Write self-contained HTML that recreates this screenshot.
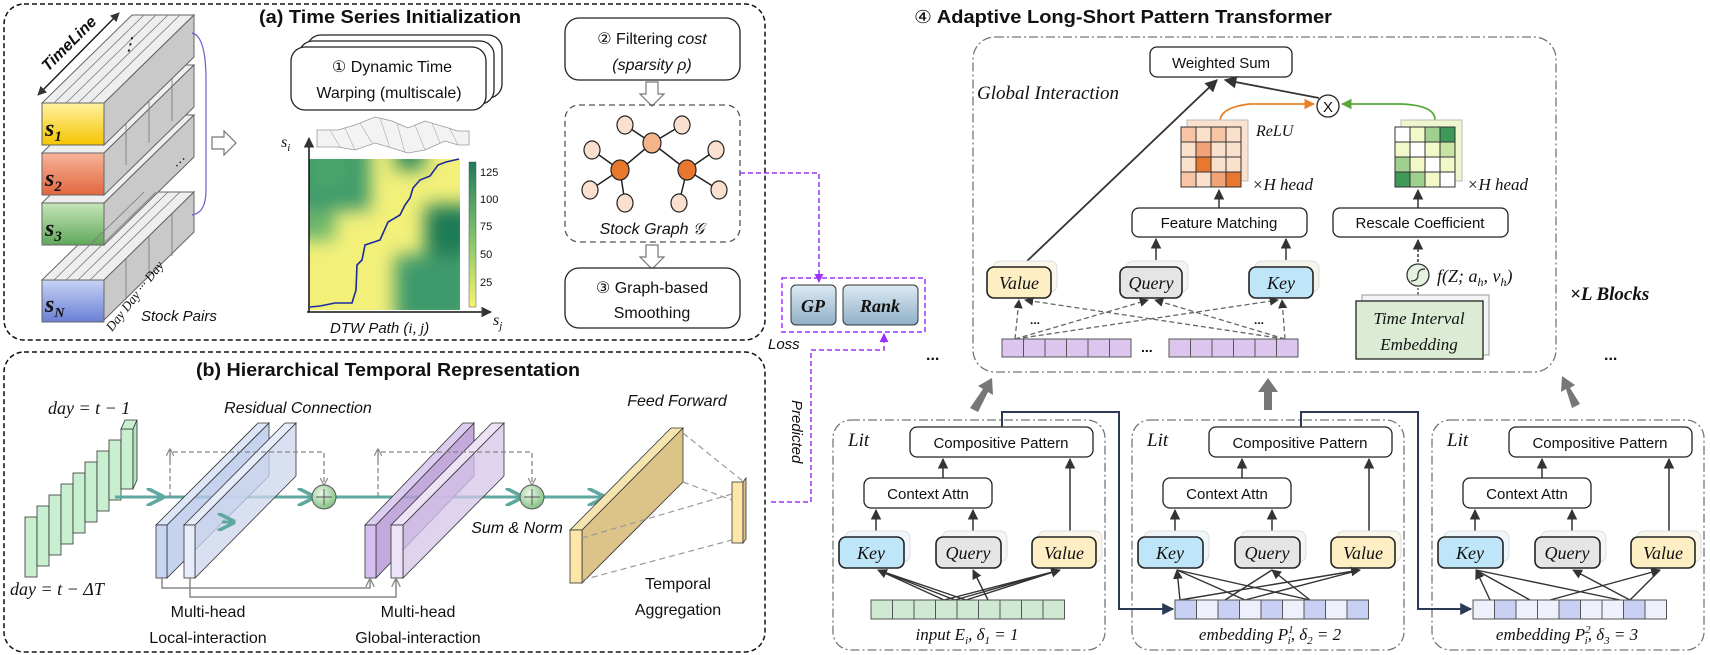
<!DOCTYPE html>
<html><head><meta charset="utf-8"><style>
html,body{margin:0;padding:0;background:#fff}
svg{display:block}
text{font-family:"Liberation Sans",sans-serif;fill:#111}
.m{font-family:"Liberation Serif",serif;font-style:italic}
.b{font-weight:bold}
</style></head><body>
<svg width="1710" height="655" viewBox="0 0 1710 655" xmlns="http://www.w3.org/2000/svg">
<defs>
<marker id="ah" viewBox="0 0 10 10" refX="9" refY="5" markerWidth="7" markerHeight="7" orient="auto-start-reverse"><path d="M0,0L10,5L0,10z" fill="#333"/></marker>
<marker id="ap" viewBox="0 0 10 10" refX="9" refY="5" markerWidth="6" markerHeight="6" orient="auto"><path d="M0,0L10,5L0,10z" fill="#9b30ff"/></marker>
<marker id="ao" viewBox="0 0 10 10" refX="9" refY="5" markerWidth="6" markerHeight="6" orient="auto"><path d="M0,0L10,5L0,10z" fill="#e8822a"/></marker>
<marker id="ag" viewBox="0 0 10 10" refX="9" refY="5" markerWidth="6" markerHeight="6" orient="auto"><path d="M0,0L10,5L0,10z" fill="#5aa83a"/></marker>
<marker id="an" viewBox="0 0 10 10" refX="9" refY="5" markerWidth="6" markerHeight="6" orient="auto"><path d="M0,0L10,5L0,10z" fill="#2d3a55"/></marker>
<marker id="at" viewBox="0 0 10 10" refX="8" refY="5" markerWidth="6" markerHeight="6" orient="auto"><path d="M0,0L10,5L0,10" fill="none" stroke="#5fa8a0" stroke-width="2"/></marker>
<marker id="agr" viewBox="0 0 10 10" refX="8" refY="5" markerWidth="6" markerHeight="6" orient="auto"><path d="M0,0L10,5L0,10" fill="none" stroke="#888" stroke-width="1.5"/></marker>
<linearGradient id="gy" x1="0" y1="0" x2="0" y2="1"><stop offset="0" stop-color="#fff2a0"/><stop offset="1" stop-color="#f5c400"/></linearGradient>
<linearGradient id="go" x1="0" y1="0" x2="0" y2="1"><stop offset="0" stop-color="#f7b49a"/><stop offset="1" stop-color="#e2673e"/></linearGradient>
<linearGradient id="gg" x1="0" y1="0" x2="0" y2="1"><stop offset="0" stop-color="#c6e6b8"/><stop offset="1" stop-color="#5fa85a"/></linearGradient>
<linearGradient id="gb" x1="0" y1="0" x2="0" y2="1"><stop offset="0" stop-color="#c7d3f5"/><stop offset="1" stop-color="#6a7fd6"/></linearGradient>
<linearGradient id="gbtn" x1="0" y1="0" x2="0" y2="1"><stop offset="0" stop-color="#dceaf3"/><stop offset="1" stop-color="#8fb0c6"/></linearGradient>
<linearGradient id="cb" x1="0" y1="0" x2="0" y2="1"><stop offset="0" stop-color="#1e7a5a"/><stop offset="0.5" stop-color="#7cc36a"/><stop offset="1" stop-color="#f7f46a"/></linearGradient>
<radialGradient id="pl" cx="0.4" cy="0.35" r="0.7"><stop offset="0" stop-color="#eaf7e6"/><stop offset="1" stop-color="#7fbf80"/></radialGradient>
<filter id="bl" x="-30%" y="-30%" width="160%" height="160%"><feGaussianBlur stdDeviation="9"/></filter>
<clipPath id="hm"><rect x="309" y="159" width="151" height="151"/></clipPath>
</defs>

<!-- ===== Panel (a) ===== -->
<rect x="4" y="4" width="761" height="336" rx="20" fill="none" stroke="#111" stroke-width="1.5" stroke-dasharray="5,3"/>
<text x="390" y="23" text-anchor="middle" class="b" font-size="18" textLength="262" lengthAdjust="spacingAndGlyphs">(a) Time Series Initialization</text>

<g stroke="#666" stroke-width="1">
<polygon points="42,280 104,280 194,192 132,192" fill="#eee"/>
<polygon points="104,280 194,192 194,232 104,320" fill="#c9c9c9"/>
<rect x="42" y="280" width="62" height="42" fill="url(#gb)"/>
<polygon points="42,203 104,203 194,115 132,115" fill="#eee"/>
<polygon points="104,203 194,115 194,157 104,245" fill="#c9c9c9"/>
<rect x="42" y="203" width="62" height="42" fill="url(#gg)"/>
<polygon points="42,153 104,153 194,65 132,65" fill="#eee"/>
<polygon points="104,153 194,65 194,107 104,195" fill="#c9c9c9"/>
<rect x="42" y="153" width="62" height="42" fill="url(#go)"/>
<polygon points="42,103 104,103 194,15 132,15" fill="#eee"/>
<polygon points="104,103 194,15 194,57 104,145" fill="#c9c9c9"/>
<rect x="42" y="103" width="62" height="42" fill="url(#gy)"/>
</g>
<g stroke="#777" stroke-width="0.8">
<line x1="54" y1="103" x2="144" y2="15"/><line x1="66" y1="103" x2="156" y2="15"/><line x1="78" y1="103" x2="168" y2="15"/><line x1="90" y1="103" x2="180" y2="15"/>
<line x1="54" y1="280" x2="144" y2="192"/><line x1="66" y1="280" x2="156" y2="192"/><line x1="78" y1="280" x2="168" y2="192"/><line x1="90" y1="280" x2="180" y2="192"/>
<line x1="126" y1="123" x2="126" y2="165"/><line x1="149" y1="101" x2="149" y2="143"/><line x1="172" y1="79" x2="172" y2="121"/>
<line x1="126" y1="300" x2="126" y2="258"/><line x1="149" y1="278" x2="149" y2="236"/><line x1="172" y1="256" x2="172" y2="214"/>
</g>
<text x="45" y="136" class="m b" font-size="24">s<tspan font-size="15" dy="5">1</tspan></text>
<text x="45" y="186" class="m b" font-size="24">s<tspan font-size="15" dy="5">2</tspan></text>
<text x="45" y="236" class="m b" font-size="24">s<tspan font-size="15" dy="5">3</tspan></text>
<text x="45" y="312" class="m b" font-size="24">s<tspan font-size="14" dy="5">N</tspan></text>
<text x="120" y="50" class="m" font-size="18">⋮</text>
<text x="178" y="170" font-size="14" transform="rotate(-45 178 170)">···</text>
<line x1="38" y1="95" x2="119" y2="13" stroke="#111" stroke-width="1.3" marker-start="url(#ah)" marker-end="url(#ah)"/>
<text x="48" y="72" class="b" font-style="italic" font-size="16" transform="rotate(-45 48 72)">TimeLine</text>
<text x="112" y="332" class="m" font-size="13" transform="rotate(-52 112 332)">Day Day ··· Day</text>
<text x="141" y="321" font-style="italic" font-size="15">Stock Pairs</text>
<path d="M192,33 Q206,36 206,80 L206,190 Q206,213 192,215" fill="none" stroke="#6a5acd" stroke-width="1.2"/>
<polygon points="212,137 224,137 224,131 236,143 224,155 224,149 212,149" fill="#fff" stroke="#777" stroke-width="1.2"/>

<rect x="307" y="35" width="195" height="63" rx="14" fill="#fff" stroke="#222" stroke-width="1.3"/>
<rect x="299" y="41" width="195" height="63" rx="14" fill="#fff" stroke="#222" stroke-width="1.3"/>
<rect x="291" y="47" width="195" height="63" rx="14" fill="#fff" stroke="#222" stroke-width="1.3"/>
<text x="392" y="72" text-anchor="middle" font-size="16">① Dynamic Time</text>
<text x="389" y="98" text-anchor="middle" font-size="16">Warping (multiscale)</text>

<path d="M317,130 L338,130 L355,125 L375,117 L392,121 L408,128 L425,121 L445,127 L458,131 L469,131 L469,145 L458,145 L445,141 L425,150 L408,153 L392,148 L375,143 L355,150 L338,147 L317,147 Z" fill="#f3f3f3" stroke="#999" stroke-width="0.8"/>
<g stroke="#aaa" stroke-width="0.6"><line x1="330" y1="130" x2="340" y2="147"/><line x1="345" y1="128" x2="355" y2="150"/><line x1="360" y1="123" x2="372" y2="143"/><line x1="380" y1="118" x2="390" y2="148"/><line x1="397" y1="123" x2="405" y2="153"/><line x1="415" y1="125" x2="425" y2="150"/><line x1="432" y1="123" x2="440" y2="143"/><line x1="450" y1="129" x2="458" y2="145"/></g>

<g clip-path="url(#hm)">
<rect x="309" y="159" width="151" height="151" fill="#f3f07a"/>
<g filter="url(#bl)" fill="#3c9a6a">
<rect x="290" y="140" width="80" height="70"/>
<rect x="395" y="140" width="30" height="30" fill="#2f8a5e"/>
<rect x="290" y="210" width="45" height="30" fill="#6ab56a"/>
<rect x="425" y="205" width="50" height="50" fill="#1f7a55"/>
<rect x="395" y="255" width="80" height="70"/>
<rect x="310" y="150" width="40" height="40" fill="#4aa56a"/>
</g>
</g>
<path d="M310,307 L320,306 L335,303 L352,303 L356,290 L357,265 L362,260 L365,245 L380,240 L388,222 L400,215 L405,205 L410,198 L413,188 L420,180 L430,176 L438,165 L446,162 L459,159" fill="none" stroke="#1a2aa0" stroke-width="1.6"/>
<rect x="469" y="162" width="7" height="145" fill="url(#cb)" stroke="#555" stroke-width="0.5"/>
<g font-size="11" fill="#222"><text x="480" y="176">125</text><text x="480" y="203">100</text><text x="480" y="230">75</text><text x="480" y="258">50</text><text x="480" y="286">25</text></g>
<line x1="309" y1="312" x2="309" y2="138" stroke="#111" stroke-width="1.5" marker-end="url(#ah)"/>
<line x1="307" y1="312" x2="491" y2="312" stroke="#111" stroke-width="1.5" marker-end="url(#ah)"/>
<text x="281" y="147" class="m" font-size="16">s<tspan font-size="11" dy="4">i</tspan></text>
<text x="493" y="325" class="m" font-size="16">s<tspan font-size="11" dy="4">j</tspan></text>
<text x="330" y="333" font-style="italic" font-size="15">DTW Path (<tspan class="m">i, j</tspan>)</text>

<rect x="565" y="18" width="175" height="62" rx="14" fill="#fff" stroke="#222" stroke-width="1.3"/>
<text x="652" y="44" text-anchor="middle" font-size="16">② Filtering <tspan font-style="italic">cost</tspan></text>
<text x="652" y="70" text-anchor="middle" font-style="italic" font-size="16">(sparsity ρ)</text>
<polygon points="646,82 658,82 658,94 664,94 652,106 640,94 646,94" fill="#fff" stroke="#777" stroke-width="1.2"/>
<rect x="565" y="105" width="175" height="137" rx="14" fill="none" stroke="#555" stroke-width="1.3" stroke-dasharray="6,4"/>
<g stroke="#222" stroke-width="1.5">
<line x1="652" y1="143" x2="620" y2="170"/><line x1="652" y1="143" x2="687" y2="170"/>
<line x1="652" y1="143" x2="625" y2="125"/><line x1="652" y1="143" x2="682" y2="125"/>
<line x1="620" y1="170" x2="592" y2="150"/><line x1="620" y1="170" x2="590" y2="190"/><line x1="620" y1="170" x2="625" y2="203"/>
<line x1="687" y1="170" x2="716" y2="150"/><line x1="687" y1="170" x2="719" y2="190"/><line x1="687" y1="170" x2="679" y2="203"/>
</g>
<g stroke="#222" stroke-width="1.2" fill="#fbe0d0">
<ellipse cx="625" cy="125" rx="8" ry="9"/><ellipse cx="682" cy="125" rx="8" ry="9"/><ellipse cx="592" cy="150" rx="8" ry="9"/><ellipse cx="716" cy="150" rx="8" ry="9"/>
<ellipse cx="590" cy="190" rx="8" ry="9"/><ellipse cx="719" cy="190" rx="8" ry="9"/><ellipse cx="625" cy="203" rx="8" ry="9"/><ellipse cx="679" cy="203" rx="8" ry="9"/>
<ellipse cx="652" cy="143" rx="9" ry="10" fill="#f3b48a"/>
<ellipse cx="620" cy="170" rx="9" ry="10" fill="#e8782e"/><ellipse cx="687" cy="170" rx="9" ry="10" fill="#e8782e"/>
</g>
<text x="652" y="234" text-anchor="middle" font-style="italic" font-size="16">Stock Graph 𝒢</text>
<polygon points="646,245 658,245 658,257 664,257 652,269 640,257 646,257" fill="#fff" stroke="#777" stroke-width="1.2"/>
<rect x="565" y="268" width="175" height="60" rx="14" fill="#fff" stroke="#222" stroke-width="1.3"/>
<text x="652" y="293" text-anchor="middle" font-size="16">③ Graph-based</text>
<text x="652" y="318" text-anchor="middle" font-size="16">Smoothing</text>

<path d="M740,173 L819,173 L819,282" fill="none" stroke="#9b30ff" stroke-width="1.5" stroke-dasharray="5,3" marker-end="url(#ap)"/>
<rect x="782" y="278" width="143" height="54" fill="none" stroke="#9b30ff" stroke-width="1.5" stroke-dasharray="5,3"/>
<rect x="791" y="285" width="45" height="40" rx="5" fill="url(#gbtn)" stroke="#333"/>
<rect x="843" y="285" width="75" height="40" rx="5" fill="url(#gbtn)" stroke="#333"/>
<text x="813" y="312" text-anchor="middle" class="m b" font-size="18">GP</text>
<text x="880" y="312" text-anchor="middle" class="m b" font-size="18">Rank</text>
<text x="768" y="349" font-style="italic" font-size="15">Loss</text>
<path d="M771,502 L811,502 L811,350 L884,350 L884,334" fill="none" stroke="#9b30ff" stroke-width="1.5" stroke-dasharray="5,3" marker-end="url(#ap)"/>
<text x="792" y="400" font-style="italic" font-size="15" transform="rotate(90 792 400)">Predicted</text>

<!-- ===== Panel (b) ===== -->
<rect x="4" y="352" width="761" height="300" rx="20" fill="none" stroke="#111" stroke-width="1.5" stroke-dasharray="5,3"/>
<text x="388" y="376" text-anchor="middle" class="b" font-size="18" textLength="384" lengthAdjust="spacingAndGlyphs">(b) Hierarchical Temporal Representation</text>
<text x="48" y="414" class="m" font-size="18">day = t − 1</text>
<text x="10" y="595" class="m" font-size="18">day = t − ΔT</text>
<g stroke="#333" stroke-width="0.8" fill="#c8f0d0">
<rect x="25" y="517" width="12" height="60"/><rect x="37" y="506" width="12" height="60"/><rect x="49" y="495" width="12" height="60"/><rect x="61" y="484" width="12" height="60"/><rect x="73" y="473" width="12" height="60"/><rect x="85" y="462" width="12" height="60"/><rect x="97" y="451" width="12" height="60"/><rect x="109" y="440" width="12" height="60"/><rect x="121" y="429" width="12" height="60"/>
<polygon points="121,429 133,429 137,420 125,420"/><polygon points="133,429 137,420 137,480 133,489" fill="#b5e3bf"/>
</g>
<g stroke="#5fa8a0" stroke-width="3" fill="none">
<line x1="115" y1="497" x2="312" y2="497" marker-end="url(#at)"/>
<line x1="336" y1="497" x2="520" y2="497" marker-end="url(#at)"/>
<line x1="544" y1="497" x2="602" y2="497" marker-end="url(#at)"/>
<line x1="160" y1="497" x2="161" y2="497" marker-end="url(#at)"/>
</g>
<g stroke="#333" stroke-width="0.8">
<polygon points="167,525 269,423 269,476 167,578" fill="#b8c8ea" fill-opacity="0.8"/>
<polygon points="156,525 167,525 269,423 258,423" fill="#dde6f8"/>
<rect x="156" y="525" width="11" height="53" fill="#c8d6f4"/>
<polygon points="195,525 296,423 296,476 195,578" fill="#ccd6ee" fill-opacity="0.75"/>
<polygon points="184,525 195,525 296,423 285,423" fill="#e6ecf9"/>
<rect x="184" y="525" width="11" height="53" fill="#e6ecfa"/>
</g>
<line x1="222" y1="522" x2="232" y2="522" stroke="#5fa8a0" stroke-width="3" marker-end="url(#at)"/>
<g stroke="#333" stroke-width="0.8">
<polygon points="376,525 474,423 474,476 376,578" fill="#b89ad6" fill-opacity="0.85"/>
<polygon points="365,525 376,525 474,423 463,423" fill="#dccdf0"/>
<rect x="365" y="525" width="11" height="53" fill="#d4bff0"/>
<polygon points="403,525 504,423 504,476 403,578" fill="#d4c4e8" fill-opacity="0.75"/>
<polygon points="391,525 403,525 504,423 492,423" fill="#ece3f7"/>
<rect x="391" y="525" width="12" height="53" fill="#ece3f8"/>
</g>
<g stroke="#888" stroke-width="1.3" fill="none" stroke-dasharray="5,3">
<path d="M170,497 L170,452 L324,452 L324,484" marker-end="url(#agr)"/>
<path d="M170,460 L170,450" marker-end="url(#agr)"/>
<path d="M378,497 L378,452 L532,452 L532,484" marker-end="url(#agr)"/>
<path d="M378,460 L378,450" marker-end="url(#agr)"/>
</g>
<g stroke="#555" stroke-width="1"><circle cx="324" cy="497" r="12" fill="url(#pl)"/><circle cx="532" cy="497" r="12" fill="url(#pl)"/>
<line x1="316" y1="497" x2="332" y2="497"/><line x1="324" y1="489" x2="324" y2="505"/><line x1="524" y1="497" x2="540" y2="497"/><line x1="532" y1="489" x2="532" y2="505"/></g>
<g stroke="#888" stroke-width="1.5" fill="none">
<path d="M162,578 L162,588 L370,588 L370,580" marker-end="url(#agr)"/>
<path d="M190,578 L190,597 L396,597 L396,580" marker-end="url(#agr)"/>
</g>
<text x="298" y="413" text-anchor="middle" font-style="italic" font-size="16">Residual Connection</text>
<text x="517" y="533" text-anchor="middle" font-style="italic" font-size="16">Sum &amp; Norm</text>
<text x="677" y="406" text-anchor="middle" font-style="italic" font-size="16">Feed Forward</text>
<g stroke="#333" stroke-width="0.8">
<polygon points="582,530 683,428 683,482 582,583" fill="#dcc489"/>
<polygon points="570,530 582,530 683,428 671,428" fill="#f6e4b0"/>
<rect x="570" y="530" width="12" height="53" fill="#fde6a8"/>
<rect x="732" y="482" width="11" height="61" fill="#fde6a8"/>
<polygon points="743,482 746,478 746,539 743,543" fill="#dcc489"/>
</g>
<g stroke="#999" stroke-width="1.2" stroke-dasharray="6,4" fill="none">
<line x1="683" y1="433" x2="744" y2="482"/><line x1="582" y1="538" x2="732" y2="494"/><line x1="582" y1="580" x2="732" y2="540"/><line x1="683" y1="482" x2="732" y2="500"/>
</g>
<text x="678" y="589" text-anchor="middle" font-size="16">Temporal</text>
<text x="678" y="615" text-anchor="middle" font-size="16">Aggregation</text>
<text x="208" y="617" text-anchor="middle" font-size="16">Multi-head</text>
<text x="208" y="643" text-anchor="middle" font-size="16">Local-interaction</text>
<text x="418" y="617" text-anchor="middle" font-size="16">Multi-head</text>
<text x="418" y="643" text-anchor="middle" font-size="16">Global-interaction</text>

<!-- ===== Panel 4 ===== -->
<text x="914" y="23" font-size="18" class="b" textLength="418" lengthAdjust="spacingAndGlyphs"><tspan font-weight="normal">④</tspan> Adaptive Long-Short Pattern Transformer</text>
<rect x="973" y="37" width="583" height="335" rx="22" fill="none" stroke="#777" stroke-width="1.3" stroke-dasharray="9,3,2,3"/>
<rect x="1150" y="47" width="142" height="30" rx="7" fill="#fff" stroke="#222" stroke-width="1.3"/>
<text x="1221" y="68" text-anchor="middle" font-size="15">Weighted Sum</text>
<text x="977" y="99" class="m" font-size="19">Global Interaction</text>
<line x1="1025" y1="263" x2="1217" y2="80" stroke="#333" stroke-width="1.8" marker-end="url(#ah)"/>
<line x1="1319" y1="98" x2="1225" y2="80" stroke="#333" stroke-width="1.8" marker-end="url(#ah)"/>
<circle cx="1328" cy="106" r="11" fill="#fff" stroke="#222" stroke-width="1.3"/>
<text x="1328" y="112" text-anchor="middle" font-size="15">X</text>
<path d="M1220,120 Q1222,107 1250,104 L1314,104" fill="none" stroke="#e8822a" stroke-width="1.8" marker-end="url(#ao)"/>
<path d="M1435,120 Q1435,105 1400,104 L1342,104" fill="none" stroke="#5aa83a" stroke-width="1.8" marker-end="url(#ag)"/>
<rect x="1187" y="120" width="61" height="61" fill="#fbe1cf" stroke="#bbb"/>
<g stroke="#333" stroke-width="1">
<rect x="1181" y="127" width="15" height="15" fill="#f7c4a4"/><rect x="1196" y="127" width="15" height="15" fill="#fbe0cc"/><rect x="1211" y="127" width="15" height="15" fill="#f7c4a4"/><rect x="1226" y="127" width="15" height="15" fill="#fbe0cc"/>
<rect x="1181" y="142" width="15" height="15" fill="#fbe0cc"/><rect x="1196" y="142" width="15" height="15" fill="#f1a276"/><rect x="1211" y="142" width="15" height="15" fill="#fbe0cc"/><rect x="1226" y="142" width="15" height="15" fill="#fbe0cc"/>
<rect x="1181" y="157" width="15" height="15" fill="#fbe0cc"/><rect x="1196" y="157" width="15" height="15" fill="#e8782e"/><rect x="1211" y="157" width="15" height="15" fill="#fbe0cc"/><rect x="1226" y="157" width="15" height="15" fill="#fbe0cc"/>
<rect x="1181" y="172" width="15" height="15" fill="#f7c4a4"/><rect x="1196" y="172" width="15" height="15" fill="#fbe0cc"/><rect x="1211" y="172" width="15" height="15" fill="#f1a276"/><rect x="1226" y="172" width="15" height="15" fill="#e8782e"/>
</g>
<rect x="1401" y="120" width="61" height="61" fill="#eef6cf" stroke="#bbb"/>
<g stroke="#333" stroke-width="1">
<rect x="1395" y="127" width="15" height="15" fill="#fff"/><rect x="1410" y="127" width="15" height="15" fill="#f2f8c8"/><rect x="1425" y="127" width="15" height="15" fill="#9fd08f"/><rect x="1440" y="127" width="15" height="15" fill="#3f9a5a"/>
<rect x="1395" y="142" width="15" height="15" fill="#f2f8c8"/><rect x="1410" y="142" width="15" height="15" fill="#fff"/><rect x="1425" y="142" width="15" height="15" fill="#f2f8c8"/><rect x="1440" y="142" width="15" height="15" fill="#c8e4a4"/>
<rect x="1395" y="157" width="15" height="15" fill="#9fd08f"/><rect x="1410" y="157" width="15" height="15" fill="#f2f8c8"/><rect x="1425" y="157" width="15" height="15" fill="#fff"/><rect x="1440" y="157" width="15" height="15" fill="#f2f8c8"/>
<rect x="1395" y="172" width="15" height="15" fill="#3f9a5a"/><rect x="1410" y="172" width="15" height="15" fill="#9fd08f"/><rect x="1425" y="172" width="15" height="15" fill="#f2f8c8"/><rect x="1440" y="172" width="15" height="15" fill="#fff"/>
</g>
<text x="1256" y="136" class="m" font-size="16">ReLU</text>
<text x="1252" y="190" class="m" font-size="17">×H head</text>
<text x="1467" y="190" class="m" font-size="17">×H head</text>
<line x1="1219" y1="208" x2="1219" y2="190" stroke="#333" stroke-width="1.5" marker-end="url(#ah)"/>
<line x1="1418" y1="208" x2="1418" y2="190" stroke="#333" stroke-width="1.5" marker-end="url(#ah)"/>
<rect x="1132" y="208" width="175" height="29" rx="7" fill="#fff" stroke="#222" stroke-width="1.3"/>
<text x="1219" y="228" text-anchor="middle" font-size="15">Feature Matching</text>
<rect x="1333" y="208" width="175" height="29" rx="7" fill="#fff" stroke="#222" stroke-width="1.3"/>
<text x="1420" y="228" text-anchor="middle" font-size="15">Rescale Coefficient</text>
<line x1="1156" y1="260" x2="1156" y2="239" stroke="#333" stroke-width="1.5" marker-end="url(#ah)"/>
<line x1="1286" y1="260" x2="1286" y2="239" stroke="#333" stroke-width="1.5" marker-end="url(#ah)"/>
<line x1="1418" y1="262" x2="1418" y2="240" stroke="#333" stroke-width="1.5" stroke-dasharray="3,2" marker-end="url(#ah)"/>
<rect x="993" y="261" width="64" height="31" rx="7" fill="#fbf6ea" stroke="#ddd"/>
<rect x="987" y="267" width="64" height="31" rx="7" fill="#fdeec4" stroke="#222" stroke-width="1.6"/>
<text x="1019" y="289" text-anchor="middle" class="m" font-size="18">Value</text>
<rect x="1126" y="261" width="62" height="31" rx="7" fill="#f4f4f4" stroke="#ddd"/>
<rect x="1120" y="267" width="62" height="31" rx="7" fill="#e5e5e5" stroke="#222" stroke-width="1.6"/>
<text x="1151" y="289" text-anchor="middle" class="m" font-size="18">Query</text>
<rect x="1255" y="261" width="64" height="31" rx="7" fill="#f6f3ea" stroke="#ddd"/>
<rect x="1249" y="267" width="64" height="31" rx="7" fill="#bfe6f8" stroke="#222" stroke-width="1.6"/>
<text x="1281" y="289" text-anchor="middle" class="m" font-size="18">Key</text>
<circle cx="1418" cy="275" r="11" fill="#e6f2e0" stroke="#333" stroke-width="1.3"/>
<path d="M1411,281 Q1418,281 1418,275 Q1418,269 1425,269" fill="none" stroke="#333" stroke-width="1.2"/>
<text x="1437" y="282" class="m" font-size="18">f(Z; a<tspan font-size="12" dy="4">h</tspan><tspan dy="-4">, v</tspan><tspan font-size="12" dy="4">h</tspan><tspan dy="-4">)</tspan></text>
<text x="1570" y="300" class="m b" font-size="19">×L Blocks</text>
<line x1="1418" y1="300" x2="1418" y2="288" stroke="#333" stroke-width="1.2" stroke-dasharray="3,2"/>
<rect x="1362" y="295" width="127" height="60" fill="#f4f4f4" stroke="#999"/>
<rect x="1356" y="301" width="127" height="58" fill="#dcecd4" stroke="#222" stroke-width="1.3"/>
<text x="1419" y="324" text-anchor="middle" class="m" font-size="17">Time Interval</text>
<text x="1419" y="350" text-anchor="middle" class="m" font-size="17">Embedding</text>
<g stroke="#555" stroke-width="1" fill="#dcc6ef">
<rect x="1002" y="339" width="21.5" height="18"/><rect x="1023.5" y="339" width="21.5" height="18"/><rect x="1045" y="339" width="21.5" height="18"/><rect x="1066.5" y="339" width="21.5" height="18"/><rect x="1088" y="339" width="21.5" height="18"/><rect x="1109.5" y="339" width="21.5" height="18"/>
<rect x="1169" y="339" width="21.5" height="18"/><rect x="1190.5" y="339" width="21.5" height="18"/><rect x="1212" y="339" width="21.5" height="18"/><rect x="1233.5" y="339" width="21.5" height="18"/><rect x="1255" y="339" width="21.5" height="18"/><rect x="1276.5" y="339" width="21.5" height="18"/>
</g>
<text x="1141" y="352" font-size="14" class="b">...</text>
<text x="1030" y="324" font-size="12" class="b">...</text>
<text x="1254" y="324" font-size="12" class="b">...</text>
<g stroke="#666" stroke-width="1.3" stroke-dasharray="5,3" fill="none">
<line x1="1015" y1="339" x2="1019" y2="300" marker-end="url(#ah)"/>
<line x1="1015" y1="339" x2="1148" y2="300" marker-end="url(#ah)"/>
<line x1="1015" y1="339" x2="1278" y2="300" marker-end="url(#ah)"/>
<line x1="1285" y1="339" x2="1025" y2="300" marker-end="url(#ah)"/>
<line x1="1285" y1="339" x2="1155" y2="300" marker-end="url(#ah)"/>
<line x1="1285" y1="339" x2="1282" y2="300" marker-end="url(#ah)"/>
</g>
<text x="926" y="360" font-size="16" class="b">...</text>
<text x="1604" y="360" font-size="16" class="b">...</text>
<g fill="#777">
<polygon points="970,408 978,412 988,392 993,395 992,378 978,386 983,389"/>
<polygon points="1264,410 1272,410 1272,392 1278,392 1268,378 1258,392 1264,392"/>
<polygon points="1572,408 1580,404 1570,388 1575,385 1562,376 1561,392 1566,389"/>
</g>

<g id="lit1">
<rect x="833" y="420" width="272" height="230" rx="18" fill="none" stroke="#777" stroke-width="1.3" stroke-dasharray="9,3,2,3"/>
<text x="848" y="446" class="m" font-size="19">Lit</text>
<rect x="910" y="427" width="183" height="30" rx="7" fill="#fff" stroke="#222" stroke-width="1.3"/>
<text x="1001" y="448" text-anchor="middle" font-size="15">Compositive Pattern</text>
<rect x="864" y="478" width="128" height="30" rx="7" fill="#fff" stroke="#222" stroke-width="1.3"/>
<text x="928" y="499" text-anchor="middle" font-size="15">Context Attn</text>
<g stroke="#333" stroke-width="1.5">
<line x1="943" y1="478" x2="943" y2="459" marker-end="url(#ah)"/>
<line x1="876" y1="537" x2="876" y2="510" marker-end="url(#ah)"/>
<line x1="973" y1="537" x2="973" y2="510" marker-end="url(#ah)"/>
<line x1="1070" y1="537" x2="1070" y2="459" marker-end="url(#ah)"/>
</g>
<rect x="845" y="531" width="65" height="31" rx="7" fill="#eef6fa" stroke="#ddd"/>
<rect x="839" y="537" width="65" height="31" rx="7" fill="#bfe6f8" stroke="#222" stroke-width="1.6"/>
<text x="871" y="559" text-anchor="middle" class="m" font-size="18">Key</text>
<rect x="942" y="531" width="65" height="31" rx="7" fill="#f6f6f6" stroke="#ddd"/>
<rect x="936" y="537" width="65" height="31" rx="7" fill="#e5e5e5" stroke="#222" stroke-width="1.6"/>
<text x="968" y="559" text-anchor="middle" class="m" font-size="18">Query</text>
<rect x="1038" y="531" width="64" height="31" rx="7" fill="#fbf6ea" stroke="#ddd"/>
<rect x="1032" y="537" width="64" height="31" rx="7" fill="#fdeec4" stroke="#222" stroke-width="1.6"/>
<text x="1064" y="559" text-anchor="middle" class="m" font-size="18">Value</text>
</g>
<g stroke="#333" stroke-width="1.4">
<line x1="944" y1="600" x2="878" y2="570" marker-end="url(#ah)"/><line x1="955" y1="600" x2="878" y2="570"/><line x1="966" y1="600" x2="878" y2="570"/>
<line x1="988" y1="600" x2="973" y2="570" marker-end="url(#ah)"/>
<line x1="944" y1="600" x2="1060" y2="570"/><line x1="955" y1="600" x2="1060" y2="570"/><line x1="966" y1="600" x2="1060" y2="570" marker-end="url(#ah)"/>
</g>
<g stroke="#555" stroke-width="1" fill="#cfe9d2">
<rect x="871" y="600" width="21.5" height="19"/><rect x="892.5" y="600" width="21.5" height="19"/><rect x="914" y="600" width="21.5" height="19"/><rect x="935.5" y="600" width="21.5" height="19"/><rect x="957" y="600" width="21.5" height="19"/><rect x="978.5" y="600" width="21.5" height="19"/><rect x="1000" y="600" width="21.5" height="19"/><rect x="1021.5" y="600" width="21.5" height="19"/><rect x="1043" y="600" width="21.5" height="19"/>
</g>
<text x="967" y="640" text-anchor="middle" class="m" font-size="17">input E<tspan font-size="11" dy="4">i</tspan><tspan dy="-4">,  δ</tspan><tspan font-size="11" dy="4">1</tspan><tspan dy="-4"> = 1</tspan></text>

<use href="#lit1" x="299"/>
<use href="#lit1" x="599"/>
<g stroke="#333" stroke-width="1.4">
<line x1="1180" y1="600" x2="1177" y2="570" marker-end="url(#ah)"/><line x1="1180" y1="600" x2="1360" y2="570" marker-end="url(#ah)"/>
<line x1="1245" y1="600" x2="1177" y2="570"/><line x1="1245" y1="600" x2="1360" y2="570"/>
<line x1="1310" y1="600" x2="1177" y2="570"/><line x1="1310" y1="600" x2="1272" y2="570" marker-end="url(#ah)"/>
<line x1="1225" y1="600" x2="1272" y2="570"/>
<line x1="1490" y1="600" x2="1476" y2="570" marker-end="url(#ah)"/><line x1="1530" y1="600" x2="1476" y2="570"/>
<line x1="1550" y1="600" x2="1660" y2="570" marker-end="url(#ah)"/><line x1="1630" y1="600" x2="1660" y2="570"/>
<line x1="1630" y1="600" x2="1573" y2="570" marker-end="url(#ah)"/><line x1="1620" y1="600" x2="1476" y2="570"/>
</g>
<g stroke="#555" stroke-width="1">
<g fill="#eef0fc"><rect x="1175" y="600" width="21.5" height="19" fill="#c8d0f4"/><rect x="1196.5" y="600" width="21.5" height="19"/><rect x="1218" y="600" width="21.5" height="19" fill="#c8d0f4"/><rect x="1239.5" y="600" width="21.5" height="19"/><rect x="1261" y="600" width="21.5" height="19" fill="#c8d0f4"/><rect x="1282.5" y="600" width="21.5" height="19"/><rect x="1304" y="600" width="21.5" height="19" fill="#c8d0f4"/><rect x="1325.5" y="600" width="21.5" height="19"/><rect x="1347" y="600" width="21.5" height="19" fill="#c8d0f4"/></g>
<g fill="#eef0fc"><rect x="1473" y="600" width="21.5" height="19"/><rect x="1494.5" y="600" width="21.5" height="19" fill="#c8d0f4"/><rect x="1516" y="600" width="21.5" height="19"/><rect x="1537.5" y="600" width="21.5" height="19"/><rect x="1559" y="600" width="21.5" height="19" fill="#c8d0f4"/><rect x="1580.5" y="600" width="21.5" height="19"/><rect x="1602" y="600" width="21.5" height="19"/><rect x="1623.5" y="600" width="21.5" height="19" fill="#c8d0f4"/><rect x="1645" y="600" width="21.5" height="19"/></g>
</g>
<rect x="1170" y="625" width="200" height="22" fill="#fff"/>
<rect x="1468" y="625" width="210" height="22" fill="#fff"/>
<text x="1270" y="640" text-anchor="middle" class="m" font-size="17">embedding  P<tspan font-size="11" dy="-7">1</tspan><tspan font-size="11" dx="-6" dy="11">i</tspan><tspan dy="-4">,  δ</tspan><tspan font-size="11" dy="4">2</tspan><tspan dy="-4"> = 2</tspan></text>
<text x="1567" y="640" text-anchor="middle" class="m" font-size="17">embedding  P<tspan font-size="11" dy="-7">2</tspan><tspan font-size="11" dx="-6" dy="11">i</tspan><tspan dy="-4">,  δ</tspan><tspan font-size="11" dy="4">3</tspan><tspan dy="-4"> = 3</tspan></text>
<path d="M1002,427 L1002,412 L1119,412 L1119,609 L1173,609" fill="none" stroke="#2d3a55" stroke-width="2" marker-end="url(#an)"/>
<path d="M1301,427 L1301,412 L1418,412 L1418,609 L1471,609" fill="none" stroke="#2d3a55" stroke-width="2" marker-end="url(#an)"/>
</svg>
</body></html>
